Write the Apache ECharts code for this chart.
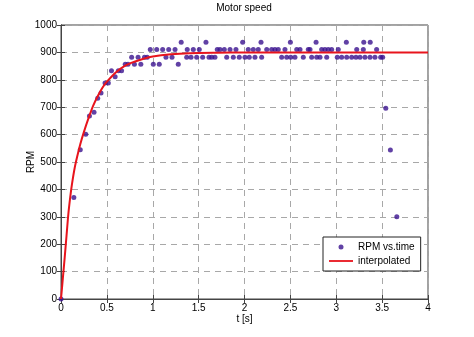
<!DOCTYPE html>
<html><head><meta charset="utf-8">
<script src="https://cdn.jsdelivr.net/npm/echarts@6/dist/echarts.min.js"></script>
<style>html,body{margin:0;padding:0;background:#fff}#c{width:474px;height:337px}</style>
</head><body><div id="c"></div>
<script>
var titleText = 'Motor speed';
var xName = 't [s]';
var yName = 'RPM';
var seriesNames = ['RPM vs.time', 'interpolated'];
var xTicks = [0, 0.5, 1, 1.5, 2, 2.5, 3, 3.5, 4];
var yTicks = [0, 100, 200, 300, 400, 500, 600, 700, 800, 900, 1000];

var speedT = [0, 0.14, 0.21, 0.27, 0.31, 0.36, 0.40, 0.436, 0.48, 0.516, 0.55, 0.59, 0.625, 0.66, 0.70, 0.73, 0.77, 0.80, 0.84, 0.87, 0.91, 0.94,
  0.973, 1.006, 1.043, 1.071, 1.108, 1.144, 1.174, 1.21, 1.243, 1.278, 1.31, 1.37, 1.376, 1.417, 1.442, 1.479, 1.507, 1.544, 1.58,
  1.613, 1.643, 1.678, 1.703, 1.733, 1.78, 1.806, 1.842, 1.878, 1.907, 1.943, 1.98, 2.005, 2.041, 2.052, 2.096, 2.114, 2.15,
  2.18, 2.187, 2.242, 2.296, 2.332, 2.368, 2.405, 2.441, 2.46, 2.50, 2.504, 2.55, 2.569, 2.605, 2.641, 2.695, 2.714, 2.732,
  2.78, 2.787, 2.823, 2.841, 2.877, 2.896, 2.913, 2.95, 3.011, 3.022, 3.059, 3.11, 3.114, 3.168, 3.215, 3.223, 3.259, 3.295,
  3.30, 3.313, 3.368, 3.37, 3.422, 3.44, 3.484, 3.506, 3.54, 3.59, 3.66];
var speedRPM = [0, 370, 545, 601, 668, 682, 733, 752, 788, 788, 833, 811, 833, 833, 857, 857, 882, 857, 882, 857, 882, 882,
  911, 857, 911, 857, 911, 882, 911, 882, 911, 857, 937, 882, 911, 882, 911, 882, 911, 882, 937,
  882, 882, 882, 911, 911, 911, 882, 911, 882, 911, 882, 937, 882, 911, 882, 911, 882, 911,
  937, 882, 911, 911, 911, 911, 882, 911, 882, 937, 882, 882, 911, 911, 882, 911, 911, 882,
  937, 882, 882, 911, 911, 882, 911, 911, 882, 911, 882, 937, 882, 882, 882, 911, 882, 911,
  937, 882, 882, 937, 882, 911, 882, 882, 696, 544, 300];

var curveT = [0, 0.02, 0.04, 0.06, 0.08, 0.10, 0.12, 0.15, 0.18, 0.21, 0.25, 0.30, 0.35, 0.40, 0.45, 0.50, 0.60, 0.70, 0.80, 0.90, 1.0, 1.2, 1.4, 1.7, 2.0, 3.0, 4.0];
var curveRPM = [0, 75, 150, 230, 310, 370, 420, 480, 525, 565, 610, 660, 705, 740, 770, 793, 828, 852, 866, 877, 885, 893, 897, 899, 900, 900, 900];

var scatterData = speedT.map(function (t, i) { return [t, speedRPM[i]]; });
var curveData = curveT.map(function (t, i) { return [t, curveRPM[i]]; });

var font = 'Liberation Sans, Arial, Helvetica, sans-serif';
var chart = echarts.init(document.getElementById('c'), null, {renderer: 'canvas'});
function fmt(v) { return String(v); }
chart.setOption({
  animation: false,
  backgroundColor: '#fff',
  title: {text: titleText, left: 244, top: 3, padding: 0, textAlign: 'center',
    textStyle: {fontFamily: font, fontSize: 10, fontWeight: 'normal', color: '#000'}},
  grid: {left: 61, top: 25, right: 46, bottom: 38, show: true, borderColor: '#444', borderWidth: 1, backgroundColor: '#fff'},
  legend: {
    orient: 'vertical', left: 323, top: 237,
    backgroundColor: '#fff', borderColor: '#222', borderWidth: 1,
    padding: [5, 6, 5, 6], itemWidth: 24, itemHeight: 5, itemGap: 4,
    textStyle: {fontFamily: font, fontSize: 10, color: '#000'},
    data: [{name: seriesNames[0], icon: 'circle'},
           {name: seriesNames[1], icon: 'path://M0,0L0,0M0,1.6L24,1.6L24,3.4L0,3.4ZM24,5L24,5'}]
  },
  xAxis: [{
    type: 'value', min: xTicks[0], max: xTicks[xTicks.length - 1], interval: 0.5,
    name: xName, nameLocation: 'middle', nameGap: 15, nameMoveOverlap: false,
    nameTextStyle: {fontFamily: font, fontSize: 10, color: '#000'},
    axisLine: {show: true, lineStyle: {color: '#444'}},
    axisTick: {inside: true, length: 4, lineStyle: {color: '#444'}},
    axisLabel: {fontFamily: font, fontSize: 10, color: '#000', margin: 4, formatter: fmt},
    splitLine: {show: true, lineStyle: {color: '#a8a8a8', type: [6, 5], width: 1}}
  }, {
    type: 'value', position: 'top', min: 0, max: 4, interval: 0.5,
    axisLine: {show: true, lineStyle: {color: '#444'}},
    axisTick: {inside: true, length: 4, lineStyle: {color: '#444'}},
    axisLabel: {show: false}, splitLine: {show: false}
  }],
  yAxis: [{
    type: 'value', min: yTicks[0], max: yTicks[yTicks.length - 1], interval: 100,
    name: yName, nameLocation: 'middle', nameGap: 25, nameRotate: 90, nameMoveOverlap: false,
    nameTextStyle: {fontFamily: font, fontSize: 10, color: '#000'},
    axisLine: {show: true, lineStyle: {color: '#444'}},
    axisTick: {inside: true, length: 4, lineStyle: {color: '#444'}},
    axisLabel: {fontFamily: font, fontSize: 10, color: '#000', margin: 4, formatter: fmt},
    splitLine: {show: true, lineStyle: {color: '#a8a8a8', type: [6, 5], width: 1}}
  }, {
    type: 'value', position: 'right', min: 0, max: 1000, interval: 100,
    axisLine: {show: true, lineStyle: {color: '#444'}},
    axisTick: {inside: true, length: 4, lineStyle: {color: '#444'}},
    axisLabel: {show: false}, splitLine: {show: false}
  }],
  series: [{
    name: seriesNames[0], type: 'scatter', xAxisIndex: 0, yAxisIndex: 0,
    data: scatterData, symbol: 'circle', symbolSize: 5,
    itemStyle: {color: '#3a128f'}, z: 3
  }, {
    name: seriesNames[1], type: 'line', xAxisIndex: 0, yAxisIndex: 0,
    data: curveData, smooth: 0.3, showSymbol: false, symbol: 'none',
    lineStyle: {color: '#e8141c', width: 2}, itemStyle: {color: '#e8141c'}, z: 4
  }]
});
</script></body></html>
